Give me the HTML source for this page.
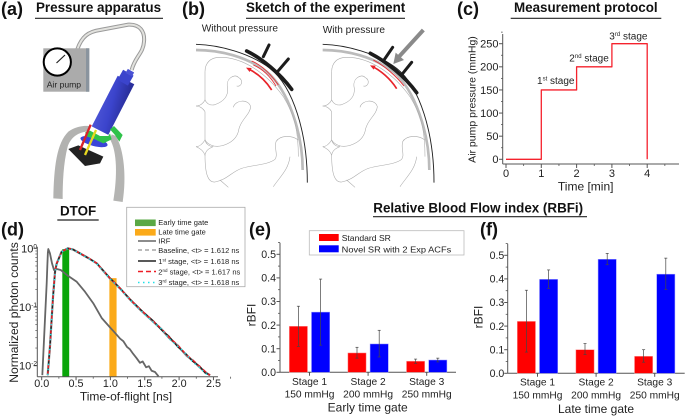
<!DOCTYPE html>
<html><head><meta charset="utf-8"><style>
html,body{margin:0;padding:0;background:#fff;width:685px;height:417px;overflow:hidden}
svg{display:block;font-family:"Liberation Sans",Arial,sans-serif;filter:blur(.35px)}
text{fill:#222}
.h{font-weight:bold;font-size:13.4px;fill:#111}
.p{font-weight:bold;font-size:18px;fill:#111}
.s{font-size:6px}
</style></head><body>
<svg id="fig" width="685" height="417" viewBox="0 0 685 417" xmlns="http://www.w3.org/2000/svg">
<defs>
<linearGradient id="blueCyl" x1="0" y1="0" x2="1" y2="0.5"><stop offset="0" stop-color="#5058d8"/><stop offset=".55" stop-color="#3b44cc"/><stop offset="1" stop-color="#2a2f9c"/></linearGradient>
<g id="brain" fill="none" stroke="#aaa" stroke-width="1.7">
<path d="M78 133 C150 135 240 160 300 205 C370 260 412 400 412 548" stroke="#222" stroke-width="2.8"/>
<path d="M78 150 C150 150 230 170 290 215 C355 270 398 400 398 510" stroke="#bbb" stroke-width="8"/>
<path d="M105 215 C105 190 120 172 150 172 C220 172 290 220 340 290 C370 340 385 380 385 470"/>
<path d="M105 215 L105 300 M105 335 L105 420"/>
<path d="M78 318 C90 318 100 310 105 300 C110 310 120 318 135 314 C160 305 175 290 173 265 C165 235 195 220 205 232 C222 240 215 262 200 258"/>
<path d="M78 318 C90 318 100 326 105 335"/>
<path d="M190 322 C195 300 235 295 242 320 C240 345 210 360 205 395 C195 430 150 445 125 436 C115 432 108 425 105 420"/>
<path d="M78 440 C90 440 100 428 105 420 C108 432 118 440 130 440 C118 445 108 450 105 465 C100 452 90 445 78 440"/>
<path d="M385 420 C365 405 330 405 318 425 C312 445 325 465 315 478 C295 495 245 495 215 505 C185 515 170 540 135 546 C115 548 105 525 105 465"/>
<path d="M150 540 L175 562 M360 470 C355 510 330 530 310 560"/>
</g>
</defs>

<!-- panel a -->
<text class="p" x="1" y="15">(a)</text>
<text class="h" x="36" y="12">Pressure apparatus</text>
<line x1="35" y1="18.3" x2="163" y2="18.3" stroke="#222" stroke-width="1.2"/>
<g transform="scale(.33333)">
<path d="M232 148 C245 110 265 95 300 90 L385 74 C420 72 435 95 432 125 C430 160 405 170 395 210" fill="none" stroke="#9a9a9a" stroke-width="12"/>
<path d="M232 148 C245 110 265 95 300 90 L385 74 C420 72 435 95 432 125 C430 160 405 170 395 210" fill="none" stroke="#e2e2de" stroke-width="6"/>
<path d="M160 595 C162 500 170 430 205 395 C225 380 250 376 268 378 L265 394 C235 396 212 412 203 440 C190 490 188 550 188 597 Z" fill="#b2b2b0"/>
<path d="M335 403 L348 408 C372 450 380 530 368 606 L340 602 C352 530 352 455 330 418 Z" fill="#b4b4b2"/>
<path d="M205 447 L235 436 L310 470 L300 490 L255 498 Z" fill="#222"/>
<ellipse cx="282" cy="425" rx="42" ry="13" fill="#3b44d8" transform="rotate(15 282 425)"/>
<path d="M378 240 L300 392" stroke="url(#blueCyl)" stroke-width="56" fill="none"/>
<path d="M385 218 L368 248" stroke="#3b44cc" stroke-width="36" fill="none"/>
<path d="M393 212 L386 224" stroke="#4a52d4" stroke-width="22" fill="none"/>
<path d="M255 398 L270 392 L300 408 L325 408 L330 400 L335 418 L310 430 L285 418 L262 410 Z" fill="#2fc24a"/>
<path d="M330 388 L342 378 L368 405 L358 425 L345 405 Z" fill="#2fc24a"/>
<line x1="272" y1="374" x2="240" y2="450" stroke="#d8232a" stroke-width="7"/>
<line x1="288" y1="390" x2="255" y2="465" stroke="#e8d820" stroke-width="7"/>
</g>
<rect x="43.3" y="48.3" width="46" height="43.4" fill="#ababab"/>
<rect x="86" y="48.3" width="3.3" height="43.4" fill="#8a949e"/>
<circle cx="57.3" cy="62" r="13.6" fill="#fff" stroke="#000" stroke-width="2"/>
<line x1="56.5" y1="63" x2="65" y2="55" stroke="#222" stroke-width="1.2"/>
<text x="46.7" y="87.3" font-size="8.6">Air pump</text>

<!-- panel b -->
<text class="p" x="182" y="15">(b)</text>
<text class="h" x="246" y="12">Sketch of the experiment</text>
<line x1="246" y1="18.3" x2="405" y2="18.3" stroke="#222" stroke-width="1.2"/>
<text x="201.7" y="31.7" font-size="10.1">Without pressure</text>
<text x="322.7" y="33" font-size="10.1">With pressure</text>
<g transform="translate(170,0) scale(.33333)">
<use href="#brain"/>
<use href="#brain" x="380"/>
<g fill="none" stroke="#1c1c1c" stroke-linecap="round">
<path d="M230 153 C275 175 330 220 365 268" stroke-width="11"/>
<path d="M280 170 L297 135 M325 212 L355 177" stroke-width="9"/>
</g>
<g fill="none" stroke="#e8232a">
<path d="M245 183 C275 195 305 225 325 255 M250 195 C280 208 300 228 318 258" stroke-width="2.5"/>
<path d="M305 270 C285 238 258 218 236 207" stroke-width="5"/>
<path d="M228 203 L245 204 L239 216 Z" fill="#e8232a" stroke="none"/>
</g>
<g fill="none" stroke="#1c1c1c" stroke-linecap="round">
<path d="M601 160 C650 185 705 230 740 278" stroke-width="11"/>
<path d="M642 180 L668 142 M697 222 L725 187" stroke-width="9"/>
</g>
<g fill="none" stroke="#e8232a">
<path d="M610 180 C645 198 680 230 702 258" stroke-width="2.5"/>
<path d="M680 266 C660 235 632 212 608 200" stroke-width="5"/>
<path d="M600 196 L617 197 L611 209 Z" fill="#e8232a" stroke="none"/>
</g>
<g>
<line x1="760" y1="90" x2="687" y2="170" stroke="#8a8a8a" stroke-width="12"/>
<path d="M670 192 L677 158 L702 180 Z" fill="#8a8a8a"/>
</g>
</g>

<!-- panel c -->
<text class="p" x="457" y="15">(c)</text>
<text class="h" x="514" y="12">Measurement protocol</text>
<line x1="510.7" y1="18.3" x2="661.3" y2="18.3" stroke="#222" stroke-width="1.2"/>
<g id="chartC"></g>
<text x="537" y="84" font-size="10">1<tspan class="s" dy="-3.5">st</tspan><tspan dy="3.5"> stage</tspan></text>
<text x="569.3" y="61.7" font-size="10">2<tspan class="s" dy="-3.5">nd</tspan><tspan dy="3.5"> stage</tspan></text>
<text x="609.3" y="39.3" font-size="10">3<tspan class="s" dy="-3.5">rd</tspan><tspan dy="3.5"> stage</tspan></text>
<text x="585.7" y="190.7" font-size="12" text-anchor="middle">Time [min]</text>
<text transform="translate(475.5,99.5) rotate(-90)" font-size="10.5" text-anchor="middle">Air pump pressure (mmHg)</text>

<!-- panel d -->
<text class="p" x="1" y="235.7">(d)</text>
<text class="h" x="60" y="215.7">DTOF</text>
<line x1="57.3" y1="220" x2="98.7" y2="220" stroke="#222" stroke-width="1.2"/>
<g id="chartD"></g>
<text x="126" y="400.7" font-size="12" text-anchor="middle">Time-of-flight [ns]</text>
<text transform="translate(18,312.5) rotate(-90)" font-size="12.1" text-anchor="middle">Normalized photon counts</text>
<g font-size="7.5">
<rect x="126.7" y="207.3" width="118.3" height="79.4" fill="#fff" stroke="#aaa" stroke-width=".8"/>
<rect x="135" y="219.5" width="20.7" height="6.6" fill="#5aa845"/>
<text x="158.3" y="225">Early time gate</text>
<rect x="135" y="229" width="20.7" height="6.6" fill="#fbaa19"/>
<text x="158.3" y="234.5">Late time gate</text>
<line x1="138" y1="241" x2="156" y2="241" stroke="#666" stroke-width="1.6"/>
<text x="158.3" y="243.5">IRF</text>
<line x1="138" y1="250" x2="156" y2="250" stroke="#777" stroke-width="1" stroke-dasharray="4 3"/>
<text x="158.3" y="252.8" textLength="81" lengthAdjust="spacingAndGlyphs">Baseline, &lt;t&gt; = 1.612 ns</text>
<line x1="138" y1="261" x2="156" y2="261" stroke="#222" stroke-width="1.4"/>
<text x="158.3" y="263.8" textLength="81" lengthAdjust="spacingAndGlyphs">1<tspan font-size="4.5" dy="-2.5">st</tspan><tspan dy="2.5"> stage, &lt;t&gt; = 1.618 ns</tspan></text>
<line x1="138" y1="271.5" x2="156" y2="271.5" stroke="#ee1c25" stroke-width="1.4" stroke-dasharray="5 3"/>
<text x="158.3" y="274.3" textLength="82" lengthAdjust="spacingAndGlyphs">2<tspan font-size="4.5" dy="-2.5">nd</tspan><tspan dy="2.5"> stage, &lt;t&gt; = 1.617 ns</tspan></text>
<line x1="138" y1="282.5" x2="156" y2="282.5" stroke="#22e0e8" stroke-width="1.4" stroke-dasharray="1.5 3.5"/>
<text x="158.3" y="285" textLength="81" lengthAdjust="spacingAndGlyphs">3<tspan font-size="4.5" dy="-2.5">rd</tspan><tspan dy="2.5"> stage, &lt;t&gt; = 1.618 ns</tspan></text>
</g>

<!-- RBFi -->
<text class="h" x="373.3" y="212.3">Relative Blood Flow index (RBFi)</text>
<line x1="373" y1="216.7" x2="587" y2="216.7" stroke="#222" stroke-width="1.2"/>
<text class="p" x="249" y="235.7">(e)</text>
<text class="p" x="480" y="235.7">(f)</text>
<g id="chartE"></g>
<g id="chartF"></g>
<text x="367.7" y="411.7" font-size="12" text-anchor="middle">Early time gate</text>
<text x="596" y="413" font-size="12" text-anchor="middle">Late time gate</text>
<text transform="translate(255.5,315) rotate(-90)" font-size="12" text-anchor="middle">rBFI</text>
<text transform="translate(482.7,317) rotate(-90)" font-size="12" text-anchor="middle">rBFI</text>
<g font-size="8.6">
<rect x="309.3" y="230.7" width="154.7" height="24.3" fill="#fff" stroke="#bbb" stroke-width=".8"/>
<rect x="319" y="234" width="19.7" height="7" fill="#f00"/>
<text x="341.7" y="241">Standard SR</text>
<rect x="319" y="245.3" width="19.7" height="7" fill="#00f"/>
<text x="341.7" y="252.3" textLength="109.6" lengthAdjust="spacingAndGlyphs">Novel SR with 2 Exp ACFs</text>
</g>

<script>
// Panel c data
const protocolTimes = [0, 1, 1, 2, 2, 3, 3, 4, 4];
const protocolPressures = [0, 0, 150, 150, 200, 200, 250, 250, 0];
const protocolXTicks = [0, 1, 2, 3, 4];
const protocolYTicks = [0, 50, 100, 150, 200, 250];

// Panel d data
const dtofTimes = [0.087, 0.12, 0.165, 0.194, 0.218, 0.29, 0.38, 0.46, 0.557, 0.68, 0.8, 0.994, 1.14, 1.285, 1.45, 1.625, 1.75, 1.85, 1.98, 2.11, 2.2, 2.3, 2.38, 2.45];
const dtofBaseline = [0.0069, 0.021, 0.15, 0.4, 0.55, 0.875, 1.0, 0.95, 0.82, 0.68, 0.555, 0.306, 0.207, 0.134, 0.086, 0.056, 0.041, 0.030, 0.022, 0.0148, 0.0122, 0.0094, 0.0078, 0.0068];
const dtofStage1 = [0.0069, 0.021, 0.15, 0.4, 0.55, 0.87, 1.0, 0.95, 0.82, 0.68, 0.56, 0.312, 0.21, 0.136, 0.088, 0.058, 0.040, 0.032, 0.021, 0.0155, 0.0118, 0.0098, 0.0075, 0.007];
const dtofStage2 = [0.0069, 0.021, 0.152, 0.41, 0.56, 0.875, 1.0, 0.95, 0.825, 0.685, 0.56, 0.31, 0.209, 0.135, 0.088, 0.057, 0.042, 0.031, 0.0225, 0.0152, 0.0125, 0.0097, 0.008, 0.0069];
const dtofStage3 = [0.0069, 0.021, 0.148, 0.39, 0.54, 0.87, 0.995, 0.945, 0.815, 0.675, 0.55, 0.304, 0.205, 0.133, 0.085, 0.055, 0.042, 0.029, 0.0215, 0.0155, 0.0115, 0.0093, 0.0074, 0.0066];
const irfTimes = [0.009, 0.024, 0.048, 0.073, 0.082, 0.09, 0.096, 0.12, 0.15, 0.179, 0.218, 0.277, 0.387, 0.51, 0.63, 0.75, 0.873, 0.994, 1.07, 1.14, 1.19, 1.24, 1.285, 1.33, 1.38, 1.43, 1.47, 1.52, 1.56, 1.6, 1.65, 1.7];
const irfValues = [0.0069, 0.016, 0.063, 0.26, 0.5, 0.85, 0.97, 0.82, 0.555, 0.427, 0.444, 0.427, 0.337, 0.269, 0.182, 0.116, 0.065, 0.045, 0.036, 0.029, 0.026, 0.021, 0.019, 0.016, 0.0135, 0.0112, 0.0118, 0.0094, 0.0098, 0.0082, 0.0078, 0.0066];
const gateNames = ['early-time-gate', 'late-time-gate'];
const gateStarts = [0.30, 0.985];
const gateEnds = [0.40, 1.09];
const gateTops = [0.97, 0.31];
const dtofXTicks = [0, 0.5, 1, 1.5, 2, 2.5];
const dtofYExponents = [0, -1, -2];

// Panels e and f data
const stageNames = ['Stage 1', 'Stage 2', 'Stage 3'];
const pressureNames = ['150 mmHg', '200 mmHg', '250 mmHg'];
const rbfiTicks = [0, 0.1, 0.2, 0.3, 0.4, 0.5];
const earlyStandard = [0.195, 0.082, 0.047];
const earlyStandardLow = [0.11, 0.06, 0.038];
const earlyStandardHigh = [0.28, 0.106, 0.056];
const earlyNovel = [0.255, 0.12, 0.052];
const earlyNovelLow = [0.115, 0.065, 0.044];
const earlyNovelHigh = [0.395, 0.178, 0.06];
const lateStandard = [0.22, 0.1, 0.072];
const lateStandardLow = [0.09, 0.08, 0.047];
const lateStandardHigh = [0.352, 0.126, 0.1];
const lateNovel = [0.398, 0.483, 0.42];
const lateNovelLow = [0.36, 0.46, 0.355];
const lateNovelHigh = [0.438, 0.508, 0.488];

const NS = 'http://www.w3.org/2000/svg';
const AXIS = '#555';

function addLine(parent, x1, y1, x2, y2, color, width, name) {
  const el = document.createElementNS(NS, 'line');
  el.setAttribute('x1', x1);
  el.setAttribute('y1', y1);
  el.setAttribute('x2', x2);
  el.setAttribute('y2', y2);
  el.setAttribute('stroke', color);
  el.setAttribute('stroke-width', width);
  
  
  parent.appendChild(el);
  return el;
}
function addText(parent, x, y, str, size, anchor, name) {
  const el = document.createElementNS(NS, 'text');
  el.setAttribute('x', x);
  el.setAttribute('y', y);
  el.setAttribute('font-size', size);
  el.setAttribute('text-anchor', anchor);
  el.textContent = str;
  
  
  parent.appendChild(el);
  return el;
}
function addRect(parent, x, y, w, h, fill, name) {
  const el = document.createElementNS(NS, 'rect');
  el.setAttribute('x', x);
  el.setAttribute('y', y);
  el.setAttribute('width', w);
  el.setAttribute('height', h);
  el.setAttribute('fill', fill);
  
  
  parent.appendChild(el);
  return el;
}
function addSeries(parent, xs, ys, xf, yf, color, width, dash, name) {
  const el = document.createElementNS(NS, 'path');
  el.setAttribute('d', xs.map((t, i) => (i ? 'L' : 'M') + xf(t).toFixed(2) + ' ' + yf(ys[i]).toFixed(2)).join(' '));
  el.setAttribute('fill', 'none');
  el.setAttribute('stroke', color);
  el.setAttribute('stroke-width', width);
  el.setAttribute('stroke-linejoin', 'round');
  if (dash) el.setAttribute('stroke-dasharray', dash);
  
  
  parent.appendChild(el);
  return el;
}

// Panel c
(function () {
  const g = document.getElementById('chartC');
  const x = t => 506 + 35.3 * t;
  const y = v => 159.3 - 0.4624 * v;
  addLine(g, 502.7, 34, 502.7, 164, AXIS, 1, 'protocol-y-axis');
  addLine(g, 502.7, 164, 679, 164, AXIS, 1, 'protocol-x-axis');
  protocolXTicks.forEach(t => {
    addLine(g, x(t), 164, x(t), 168, AXIS, 1, 'protocol-x-tick');
    addLine(g, x(t + 0.5), 164, x(t + 0.5), 166, AXIS, 0.8, 'protocol-x-minor-tick');
    addText(g, x(t), 177, String(t), 11, 'middle', 'protocol-x-tick-label');
  });
  protocolYTicks.forEach(v => {
    addLine(g, 499, y(v), 502.7, y(v), AXIS, 1, 'protocol-y-tick');
    addLine(g, 501, y(v + 25), 502.7, y(v + 25), AXIS, 0.8, 'protocol-y-minor-tick');
    addText(g, 498.5, y(v) + 3.9, String(v), 11, 'end', 'protocol-y-tick-label');
  });
  addSeries(g, protocolTimes, protocolPressures, x, y, '#f5222d', 1.3, null, 'pressure-line');
})();

// Panel d
(function () {
  const g = document.getElementById('chartD');
  const x = t => 41.7 + 68.7 * t;
  const y = v => 248.3 - 58.7 * Math.log10(v);
  const bottom = 376.7;
  gateNames.forEach((name, i) => {
    const colors = ['#0aa50a', '#fbaa19'];
    addRect(g, x(gateStarts[i]), y(gateTops[i]), x(gateEnds[i]) - x(gateStarts[i]), bottom - y(gateTops[i]), colors[i], name);
  });
  addSeries(g, irfTimes, irfValues, x, y, '#666', 1.8, null, 'irf-line');
  addSeries(g, dtofTimes, dtofBaseline, x, y, '#8a8a8a', 2.2, null, 'baseline-line');
  addSeries(g, dtofTimes, dtofStage1, x, y, '#222', 1.4, null, 'stage-1-line');
  addSeries(g, dtofTimes, dtofStage2, x, y, '#ee1c25', 1.4, '4 3', 'stage-2-line');
  addSeries(g, dtofTimes, dtofStage3, x, y, '#22e0e8', 1.4, '1.5 3.5', 'stage-3-line');
  addLine(g, 37.3, 246.7, 37.3, bottom, AXIS, 1, 'dtof-y-axis');
  addLine(g, 37.3, bottom, 218, bottom, AXIS, 1, 'dtof-x-axis');
  dtofXTicks.forEach(t => {
    addLine(g, x(t), bottom, x(t), bottom + 3.5, AXIS, 1, 'dtof-x-tick');
    addLine(g, x(t + 0.25), bottom, x(t + 0.25), bottom + 2, AXIS, 0.8, 'dtof-x-minor-tick');
    addText(g, x(t), 386.9, t.toFixed(1), 10.8, 'middle', 'dtof-x-tick-label');
  });
  dtofYExponents.forEach(e => {
    const v = Math.pow(10, e);
    addLine(g, 33.5, y(v), 37.3, y(v), AXIS, 1, 'dtof-y-tick');
    [2, 3, 4, 5, 6, 7, 8, 9].forEach(m => {
      if (y(v * m) > 246.7 && y(v * m) < bottom) addLine(g, 35.3, y(v * m), 37.3, y(v * m), AXIS, 0.7, 'dtof-y-minor-tick');
    });
    const label = addText(g, 37, y(v) + 4, '10', 11, 'end', 'dtof-y-tick-label');
    const sup = document.createElementNS(NS, 'tspan');
    sup.setAttribute('font-size', '6.5');
    sup.setAttribute('dy', '-4');
    sup.textContent = String(e);
    label.appendChild(sup);
  });
})();

// Panels e and f
function drawBars(g, x0, y0, left, right, tickX, stageY, pressY, std, stdLow, stdHigh, nov, novLow, novHigh) {
  const y = v => y0 - 236 * v;
  const x = i => x0 + 58.6 * i;
  const bw = 18.2;
  const off = 11.1;
  addLine(g, left, y0 - 129.5, left, y0, AXIS, 1, 'rbfi-y-axis');
  addLine(g, left, y0, right, y0, AXIS, 1, 'rbfi-x-axis');
  rbfiTicks.forEach(v => {
    addLine(g, left - 3.5, y(v), left, y(v), AXIS, 1, 'rbfi-y-tick');
    addLine(g, left - 2, y(v + 0.05), left, y(v + 0.05), AXIS, 0.8, 'rbfi-y-minor-tick');
    addText(g, tickX, y(v) + 3.7, v.toFixed(1), 10.6, 'end', 'rbfi-y-tick-label');
  });
  stageNames.forEach((name, i) => {
    addLine(g, x(i), y0, x(i), y0 + 3.5, AXIS, 1, 'rbfi-x-tick');
    const a = addRect(g, x(i) - off - bw / 2, y(std[i]), bw, y0 - y(std[i]), '#f00', 'bar-standard-sr');
    a.setAttribute('stroke', '#ff9a9a');
    a.setAttribute('stroke-width', '.5');
    const b = addRect(g, x(i) + off - bw / 2, y(nov[i]), bw, y0 - y(nov[i]), '#00f', 'bar-novel-sr');
    b.setAttribute('stroke', '#8f8fff');
    b.setAttribute('stroke-width', '.5');
    [[-off, stdLow[i], stdHigh[i]], [off, novLow[i], novHigh[i]]].forEach(e => {
      const cx = x(i) + e[0];
      addLine(g, cx, y(e[1]), cx, y(e[2]), '#444', 0.7, 'error-bar');
      addLine(g, cx - 1.5, y(e[1]), cx + 1.5, y(e[1]), '#444', 0.7, 'error-bar-cap');
      addLine(g, cx - 1.5, y(e[2]), cx + 1.5, y(e[2]), '#444', 0.7, 'error-bar-cap');
    });
    addText(g, x(i), stageY, name, 10.2, 'middle', 'stage-label');
    addText(g, x(i), pressY, pressureNames[i], 10.2, 'middle', 'pressure-label');
  });
}
drawBars(document.getElementById('chartE'), 309.5, 372.3, 280, 456, 276, 385, 397.3, earlyStandard, earlyStandardLow, earlyStandardHigh, earlyNovel, earlyNovelLow, earlyNovelHigh);
drawBars(document.getElementById('chartF'), 537.5, 373.3, 507.7, 684.7, 504.3, 385.7, 398.3, lateStandard, lateStandardLow, lateStandardHigh, lateNovel, lateNovelLow, lateNovelHigh);
</script>
</svg>
</body></html>
